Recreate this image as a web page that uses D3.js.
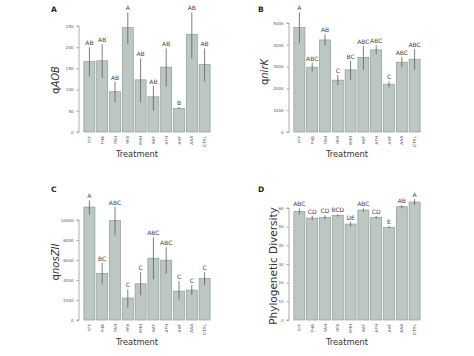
<!DOCTYPE html>
<html><head><meta charset="utf-8">
<script src="https://cdn.jsdelivr.net/npm/d3@7"></script>
<style>body{margin:0;background:#fff}svg{display:block}</style>
</head><body>
<script>
const categories = ["FFF","FHA","FAH","HFA","HHH","HAF","AFH","AHF","AAA","CTRL"];

const aobMean = [166,168,95,246,123,83,153,56,230,159];
const aobHi   = [200,207,119,282,174,109,197,59,282,197];
const aobLo   = [131,127,70,208,70,50,107,55,174,119];
const aobLetters = ["AB","AB","AB","A","AB","AB","AB","B","AB","AB"];
const aobTicks = [0,50,100,150,200,250];

const nirMean = [4787,2973,4222,2378,2850,3415,3765,2195,3201,3338];
const nirHi   = [5488,3186,4482,2622,3262,3948,3979,2332,3430,3796];
const nirLo   = [4070,2774,3963,2149,2393,2850,3567,2058,2973,2850];
const nirLetters = ["A","ABC","AB","C","BC","ABC","ABC","C","ABC","ABC"];
const nirTicks = [0,1000,2000,3000,4000,5000];

const nosMean = [11296,4651,9934,2193,3621,6179,5980,2890,2990,4153];
const nosHi   = [11960,5714,11296,3056,4784,8272,7276,3887,3488,4784];
const nosLo   = [10532,3555,8472,1229,2492,4086,4651,2060,2492,3488];
const nosLetters = ["A","BC","ABC","C","C","ABC","ABC","C","C","C"];
const nosTicks = [0,2000,4000,6000,8000,10000];

const pdMean = [58.2,54.6,55.0,56.0,51.4,58.9,55.0,49.6,60.7,63.2];
const pdHi   = [59.8,55.8,56.1,56.7,52.6,59.8,55.7,50.3,61.5,64.8];
const pdLo   = [56.6,53.4,53.9,55.3,50.2,58.0,54.3,48.9,59.9,61.6];
const pdLetters = ["ABC","CD","CD","BCD","DE","ABC","CD","E","AB","A"];
const pdTicks = [0,10,20,30,40,50,60];

const W = 474, H = 356;
const svg = d3.select("body").append("svg").attr("width",W).attr("height",H);
const FONT = "DejaVu Sans";

function panel(o){
  const g = svg.append("g");
  const x = d3.scaleBand().domain(categories).range([o.x0,o.x1]).paddingInner(0.14).paddingOuter(0.07);
  const y = d3.scaleLinear().domain([0,o.tmax]).range([o.y0,o.y1]);
  const ax = g.append("g").attr("transform",`translate(${o.ax},0)`)
    .call(d3.axisLeft(y).tickValues(o.ticks).tickSize(2.5).tickPadding(3).tickFormat(d3.format("d")));
  ax.select(".domain").attr("stroke","#999").attr("stroke-width",0.8).attr("d",`M-2.5,${y(0)}H0V${y(o.ticks[o.ticks.length-1])}H-2.5`);
  ax.selectAll(".tick line").attr("stroke","#999").attr("stroke-width",0.8);
  ax.selectAll(".tick text").attr("font-family",FONT).attr("font-size",4).attr("fill","#555");
  g.selectAll("rect.bar").data(categories).enter().append("rect")
    .attr("x",d=>x(d)).attr("width",x.bandwidth())
    .attr("y",(d,i)=>y(o.mean[i])).attr("height",(d,i)=>y(0)-y(o.mean[i]))
    .attr("fill","#bcc7c2").attr("stroke","#8f9a96").attr("stroke-width",0.7);
  g.selectAll("line.err").data(categories).enter().append("line")
    .attr("x1",d=>x(d)+x.bandwidth()/2).attr("x2",d=>x(d)+x.bandwidth()/2)
    .attr("y1",(d,i)=>y(o.hi[i])).attr("y2",(d,i)=>y(o.lo[i]))
    .attr("stroke","#5a5f5d").attr("stroke-width",0.8);
  g.selectAll("text.let").data(categories).enter().append("text")
    .attr("x",d=>x(d)+x.bandwidth()/2).attr("y",(d,i)=>y(o.hi[i])-2)
    .attr("text-anchor","middle").attr("font-family",FONT).attr("font-size",6).attr("fill","#444")
    .text((d,i)=>o.letters[i]);
  g.selectAll("text.cat").data(categories).enter().append("text")
    .attr("transform",d=>`translate(${x(d)+x.bandwidth()/2+1.5},${o.y0+4}) rotate(-90)`)
    .attr("text-anchor","end").attr("font-family",FONT).attr("font-size",4.2).attr("fill","#444")
    .text(d=>d);
  g.append("text").attr("x",(o.x0+o.x1)/2-10).attr("y",o.y0+25).attr("text-anchor","middle")
    .attr("font-family",FONT).attr("font-size",8.3).attr("fill","#333").text("Treatment");
  const yt = g.append("text").attr("transform",`translate(${o.ylx},${o.yly}) rotate(-90)`)
    .attr("text-anchor","middle").attr("font-family",FONT).attr("font-size",o.ylsize).attr("fill","#333");
  if(o.ylPre){ yt.append("tspan").text(o.ylPre); }
  yt.append("tspan").attr("font-style",o.ylPre?"italic":"normal").text(o.ylMain);
  g.append("text").attr("x",o.px).attr("y",o.py).attr("font-family",FONT).attr("font-weight","bold")
    .attr("font-size",7.5).attr("fill","#222").text(o.plabel);
}

panel({x0:83,x1:211,ax:79,y0:132,y1:26,tmax:250,ticks:aobTicks,mean:aobMean,hi:aobHi,lo:aobLo,letters:aobLetters,
  ylx:59,yly:80,ylsize:10,ylPre:"q",ylMain:"AOB",px:51,py:12,plabel:"A"});
panel({x0:293,x1:421,ax:289,y0:132,y1:23,tmax:5000,ticks:nirTicks,mean:nirMean,hi:nirHi,lo:nirLo,letters:nirLetters,
  ylx:268,yly:72,ylsize:10,ylPre:"q",ylMain:"nirK",px:258,py:12,plabel:"B"});
panel({x0:83,x1:211,ax:79,y0:320,y1:220,tmax:10000,ticks:nosTicks,mean:nosMean,hi:nosHi,lo:nosLo,letters:nosLetters,
  ylx:59,yly:262,ylsize:10,ylPre:"q",ylMain:"nosZII",px:51,py:192,plabel:"C"});
panel({x0:293,x1:421,ax:289,y0:320,y1:208,tmax:60,ticks:pdTicks,mean:pdMean,hi:pdHi,lo:pdLo,letters:pdLetters,
  ylx:277,yly:266,ylsize:10.5,ylPre:null,ylMain:"Phylogenetic Diversity",px:258,py:192,plabel:"D"});
</script>
</body></html>
